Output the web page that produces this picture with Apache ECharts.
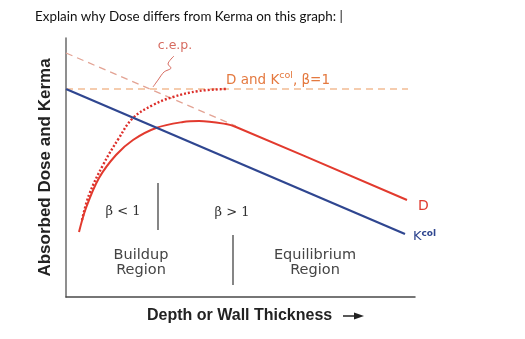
<!DOCTYPE html>
<html><head><meta charset="utf-8">
<script src="https://cdn.jsdelivr.net/npm/echarts@6/dist/echarts.min.js"></script>
<style>html,body{margin:0;padding:0;background:#fff}#c{width:525px;height:339px}</style>
</head><body><div id="c"></div>
<script>
// Data (x: depth, y: dose/kerma, arbitrary units)
const kcolLine = [[0, 208], [339, 63]];
const kcolExtrap = [[0, 244], [170, 171]];
const equilLevel = [[0, 208], [342, 208]];
const doseBeta1 = [[16, 77], [23, 102], [37, 132], [53, 159], [67, 179], [87, 192], [107, 200], [133, 206], [160, 208]];
const dose = [[13, 65], [20, 89], [33, 119], [50, 142], [67, 157], [90, 169], [117, 175], [133, 176], [160, 173], [170, 170], [341, 97]];
const cepLeader = [[108, 241], [102, 233], [105, 229], [98, 225], [92, 217], [87, 210]];
const divider1 = [[92, 114], [92, 67]];
const divider2 = [[167, 62], [167, 12]];

const chart = echarts.init(document.getElementById('c'), null, {renderer: 'canvas'});
const F = 'Liberation Sans, Arial, sans-serif';
const W = 'DejaVu Sans, sans-serif';
chart.setOption({
  animation: false,
  backgroundColor: '#fff',
  title: {
    text: 'Explain why Dose differs from Kerma on this graph: |',
    left: 30, top: 5,
    textStyle: {fontFamily: 'Lato, Open Sans, sans-serif', fontSize: 13.4, fontWeight: 'normal', color: '#111'}
  },
  grid: {left: 66, top: 38, width: 349, height: 259},
  xAxis: {
    type: 'value', min: 0, max: 349,
    axisLine: {show: true, lineStyle: {color: '#4a4a4a', width: 1.5}},
    axisTick: {show: false}, axisLabel: {show: false}, splitLine: {show: false}
  },
  yAxis: {
    type: 'value', min: 0, max: 259,
    axisLine: {show: true, lineStyle: {color: '#6a6a6a', width: 1.5}},
    axisTick: {show: false}, axisLabel: {show: false}, splitLine: {show: false},
    name: 'Absorbed Dose and Kerma', nameLocation: 'middle', nameRotate: 90, nameGap: 12,
    nameTextStyle: {fontFamily: F, fontSize: 17, fontWeight: 'bold', color: '#222', padding: [0, 0, 0, 0]}
  },
  graphic: [
    {type: 'text', x: 175, y: 46, style: {text: 'c.e.p.', font: '12.5px ' + W, fill: '#d66b60', align: 'center', verticalAlign: 'middle'}},
    {type: 'text', x: 226, y: 80, style: {
      text: '{a|D and K}{s|col}{a|, β=1}', align: 'left', verticalAlign: 'middle',
      rich: {a: {fontFamily: W, fontSize: 13.5, fill: '#e4793f'}, s: {fontFamily: W, fontSize: 9.5, fill: '#e4793f', padding: [0, 0, 8, 0]}}
    }},
    {type: 'text', x: 418, y: 206, style: {text: 'D', font: '14px ' + W, fill: '#e03b2f', align: 'left', verticalAlign: 'middle'}},
    {type: 'text', x: 413, y: 237, style: {
      text: '{a|K}{s|col}', align: 'left', verticalAlign: 'middle',
      rich: {a: {fontFamily: W, fontSize: 13, fill: '#2f4690'}, s: {fontFamily: W, fontSize: 9, fontWeight: 'bold', fill: '#2f4690', padding: [0, 0, 7, 0]}}
    }},
    {type: 'text', x: 123, y: 212, style: {text: 'β < 1', font: '13px DejaVu Serif, serif', fill: '#333', align: 'center', verticalAlign: 'middle'}},
    {type: 'text', x: 232, y: 213, style: {text: 'β > 1', font: '13px DejaVu Serif, serif', fill: '#333', align: 'center', verticalAlign: 'middle'}},
    {type: 'text', x: 141, y: 263, style: {text: 'Buildup\nRegion', font: '14.5px ' + W, lineHeight: 15, fill: '#444', align: 'center', verticalAlign: 'middle'}},
    {type: 'text', x: 315, y: 263, style: {text: 'Equilibrium\nRegion', font: '14.5px ' + W, lineHeight: 15, fill: '#444', align: 'center', verticalAlign: 'middle'}},
    {type: 'text', x: 147, y: 316, style: {text: 'Depth or Wall Thickness', font: 'bold 16px ' + F, fill: '#222', align: 'left', verticalAlign: 'middle'}},
    {type: 'line', shape: {x1: 343, y1: 316, x2: 356, y2: 316}, style: {stroke: '#222', lineWidth: 1.5}},
    {type: 'polygon', shape: {points: [[354, 312.5], [364, 316], [354, 319.5]]}, style: {fill: '#222'}}
  ],
  series: [
    {type: 'line', data: equilLevel, symbol: 'none', lineStyle: {color: '#f2bc94', width: 1.5, type: [7, 5]}, z: 1},
    {type: 'line', data: kcolExtrap, symbol: 'none', lineStyle: {color: '#e3a394', width: 1.3, type: [7, 5]}, z: 1},
    {type: 'line', data: kcolLine, symbol: 'none', lineStyle: {color: '#2f4690', width: 2.2}, z: 3},
    {type: 'line', data: doseBeta1, symbol: 'none', smooth: 0.4, lineStyle: {color: '#dc2e2a', width: 2.4, type: [2, 2]}, z: 2},
    {type: 'line', data: dose, symbol: 'none', smooth: 0.35, lineStyle: {color: '#e23a2e', width: 2}, z: 2},
    {type: 'line', data: cepLeader, symbol: 'none', smooth: 0.3, lineStyle: {color: '#d66b60', width: 1}, z: 2},
    {type: 'line', data: divider1, symbol: 'none', lineStyle: {color: '#444', width: 1.3}},
    {type: 'line', data: divider2, symbol: 'none', lineStyle: {color: '#444', width: 1.3}}
  ]
});
</script></body></html>
